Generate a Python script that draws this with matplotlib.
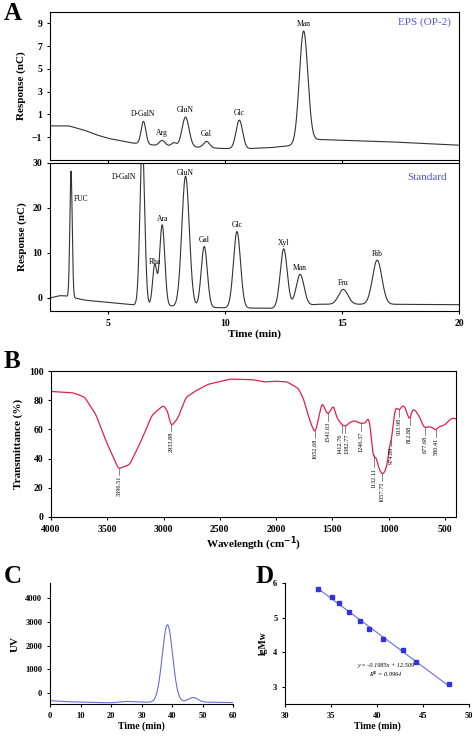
import numpy as np
import matplotlib.pyplot as plt

plt.rcParams['font.family'] = ['Liberation Serif', 'DejaVu Serif']
plt.rcParams['font.weight'] = 'bold'
plt.rcParams['axes.labelweight'] = 'bold'
plt.rcParams['mathtext.default'] = 'bf'

# Panel A: HPAEC-PAD peak tables (time, height, width)
eps_names = ['D-GalN', 'Arg', '', 'GluN', 'Gal', 'Glc', 'Man']
eps_time = [6.5, 7.3, 7.8, 8.3, 9.2, 10.6, 13.35]
eps_height = [2.0, 0.45, 0.3, 2.6, 0.55, 2.5, 9.8]
eps_width = [0.1, 0.12, 0.1, 0.15, 0.13, 0.14, 0.18]
eps_base_t = [2.5, 3.3, 4, 4.5, 5, 6, 7, 9, 10, 11, 12, 13, 13.6, 14, 17, 20]
eps_base_y = [0, 0, -0.4, -0.8, -1.1, -1.5, -1.7, -1.9, -2.0, -2.0, -1.9, -1.7, -1.3, -1.2, -1.4, -1.7]

std_names = ['FUC', 'D-GalN', 'Rha', 'Ara', 'GluN', 'Gal', 'Glc', 'Xyl', 'Man', 'Fru', 'Rib']
std_time = [3.4, 6.45, 6.98, 7.3, 8.3, 9.1, 10.5, 12.5, 13.2, 15.05, 16.5]
std_height = [28, 36, 9, 18, 29, 13.5, 17, 13, 7, 3.3, 9.8]
std_width = [0.05, 0.1, 0.09, 0.11, 0.16, 0.13, 0.15, 0.15, 0.17, 0.2, 0.2]
std_base_t = [2.5, 2.9, 3.1, 3.3, 4, 6, 7, 10, 12, 14, 17, 20]
std_base_y = [0, 0.5, 0.5, 0.3, -0.5, -1.5, -1.7, -2.2, -2.3, -1.4, -1.4, -1.5]

# Panel B: FT-IR
ir_wn = [4000, 3800, 3700, 3600, 3500, 3400, 3300, 3200, 3100, 3000, 2960, 2933, 2900, 2870, 2800,
         2700, 2600, 2400, 2200, 2100, 2000, 1900, 1800, 1750, 1700, 1652, 1620, 1590, 1560, 1541,
         1520, 1490, 1460, 1412, 1382, 1340, 1300, 1246, 1200, 1180, 1160, 1140, 1132, 1110, 1090,
         1057, 1030, 1000, 990, 974, 960, 940, 920, 903, 870, 840, 812, 790, 760, 720, 690, 677,
         640, 600, 580, 550, 500, 450, 420, 400]
ir_t = [86, 85, 82, 70, 50, 33, 36, 52, 70, 76.5, 72, 62, 65, 68, 82, 87, 91, 94.5, 94, 92.5, 93,
        92.5, 88, 80, 66, 57, 68, 79, 73, 70, 72, 77, 68, 63, 62, 65, 66, 64, 64.5, 69, 62, 42, 40,
        42, 34, 29, 31, 40, 53, 50, 62, 76, 74, 73, 77, 73, 65, 74, 73, 68, 62, 61, 62, 61, 59, 62,
        63, 67, 68, 67]
ir_marks = [3396.51, 2933.88, 1652.68, 1541.63, 1412.76, 1382.77, 1246.37, 1132.11, 1057.75,
            974.89, 903.98, 812.88, 677.68, 580.41]
ir_tick_len = [5, 5, 5, 5, 6, 5, 5, 8, 5, 5, 5, 5, 5, 5]
ir_label_dx = [0, 0, 0, 0, 22, -10, 0, 0, 0, 0, 0, 0, 0, 0]

# Panel C: GPC peak
gpc_time = [38.5, 47.0]
gpc_height = [3250, 180]
gpc_width = [1.7, 1.5]
gpc_base_t = [0, 5, 10, 15, 20, 25, 30, 35, 40, 45, 50, 55, 60]
gpc_base_y = [-320, -360, -380, -400, -410, -350, -380, -390, -370, -360, -380, -390, -400]

# Panel D: calibration
cal_time = [33.6, 35.1, 35.9, 37.0, 38.2, 39.1, 40.6, 42.8, 44.2, 47.8]
cal_lgmw = [5.82, 5.6, 5.43, 5.17, 4.9, 4.68, 4.37, 4.05, 3.72, 3.07]


def trace(t, bt, by, pt, ph, pw):
    y = np.interp(t, bt, by)
    for c, h, w in zip(pt, ph, pw):
        y = y + h * np.exp(-0.5 * ((t - c) / w) ** 2)
    return y


def bold_ticks(ax):
    for lb in ax.get_xticklabels() + ax.get_yticklabels():
        lb.set_fontweight('bold')


W, H = 474, 736
fig = plt.figure(figsize=(4.74, 7.36), dpi=100)


def box(l, t, r, b):
    return [l / W, 1 - b / H, (r - l) / W, (b - t) / H]


fs = 7
t = np.linspace(2.5, 20, 3000)

ax1 = fig.add_axes(box(50, 12, 459, 160))
y1 = trace(t, eps_base_t, eps_base_y, eps_time, eps_height, eps_width)
ax1.plot(t, y1, color='#333333', lw=0.8)
ax1.set_xlim(2.5, 20)
ax1.set_ylim(-3, 10)
ax1.set_yticks([-1, 1, 3, 5, 7, 9])
ax1.set_xticks([5, 10, 15, 20])
ax1.tick_params(labelbottom=False, labelsize=fs, direction='out', length=2)
ax1.set_ylabel('Response (nC)', fontsize=8)
ax1.text(0.98, 0.93, 'EPS (OP-2)', transform=ax1.transAxes, ha='right', va='center',
         color='#5555dd', fontsize=8, fontweight='normal')
for n, c in zip(eps_names, eps_time):
    if n:
        ax1.text(c, np.interp(c, t, y1) + 0.3, n, ha='center', va='bottom', fontsize=5.5,
                 fontweight='normal')

ax2 = fig.add_axes(box(50, 163, 459, 311))
y2 = trace(t, std_base_t, std_base_y, std_time, std_height, std_width)
ax2.plot(t, y2, color='#333333', lw=0.8)
ax2.set_xlim(2.5, 20)
ax2.set_ylim(-2.9, 30)
ax2.set_yticks([0, 10, 20, 30])
ax2.set_xticks([5, 10, 15, 20])
ax2.tick_params(labelsize=fs, direction='out', length=2)
ax2.set_ylabel('Response (nC)', fontsize=8)
ax2.set_xlabel('Time (min)', fontsize=8, labelpad=1)
ax2.text(0.97, 0.9, 'Standard', transform=ax2.transAxes, ha='right', va='center',
         color='#5555dd', fontsize=8, fontweight='normal')
std_off = {'FUC': (0.45, -7), 'D-GalN': (-0.8, -3), 'Rha': (0, -0.5), 'GluN': (0, -0.3)}
for n, c in zip(std_names, std_time):
    dx, dy = std_off.get(n, (0, 0.5))
    yy = min(np.interp(c, t, y2), 29)
    ax2.text(c + dx, yy + dy, n, ha='center', va='bottom', fontsize=5.5, fontweight='normal')

axb = fig.add_axes(box(51, 371, 456, 517))
wn_sorted = np.array(ir_wn[::-1], dtype=float)
t_sorted = np.array(ir_t[::-1], dtype=float)
wd = np.linspace(400, 4000, 3601)
td = np.interp(wd, wn_sorted, t_sorted)
kern = np.exp(-0.5 * (np.arange(-30, 31) / 10.0) ** 2)
kern /= kern.sum()
tpad = np.pad(td, 30, mode='edge')
ts = np.convolve(tpad, kern, mode='valid')
axb.plot(wd, ts, color='#e0204a', lw=0.9)
axb.set_xlim(4000, 400)
axb.set_ylim(0, 100)
axb.set_xticks([4000, 3500, 3000, 2500, 2000, 1500, 1000, 500])
axb.set_yticks([0, 20, 40, 60, 80, 100])
axb.tick_params(labelsize=fs, direction='out', length=2)
axb.set_ylabel('Transmittance (%)', fontsize=8)
axb.set_xlabel('Wavelength (cm$^{-1}$)', fontsize=8, labelpad=1)
for m, ln, dx in zip(ir_marks, ir_tick_len, ir_label_dx):
    cy = np.interp(m, wd, ts)
    axb.plot([m, m], [cy, cy - ln], color='#555555', lw=0.5)
    axb.text(m + dx, cy - ln - 0.5, '%.2f' % m, rotation=90, ha='center', va='top', fontsize=4.5,
             fontweight='normal')

axc = fig.add_axes(box(50, 583, 233, 704))
tc = np.linspace(0, 60, 1200)
yc = trace(tc, gpc_base_t, gpc_base_y, gpc_time, gpc_height, gpc_width)
axc.plot(tc, yc, color='#6a6ae0', lw=0.8)
axc.set_xlim(0, 60)
axc.set_ylim(-460, 4630)
axc.set_yticks([0, 1000, 2000, 3000, 4000])
axc.set_xticks([0, 10, 20, 30, 40, 50, 60])
axc.tick_params(labelsize=fs - 1, direction='out', length=2)
axc.set_ylabel('UV', fontsize=8)
axc.set_xlabel('Time (min)', fontsize=7, labelpad=1)
for s in ['top', 'right']:
    axc.spines[s].set_visible(False)

axd = fig.add_axes(box(285, 583, 469, 704))
k, b0 = np.polyfit(cal_time, cal_lgmw, 1)
xl = np.array([cal_time[0], cal_time[-1]])
axd.plot(xl, k * xl + b0, color='#6a6ae0', lw=0.8)
axd.plot(cal_time, cal_lgmw, 's', color='#3333dd', ms=3)
axd.set_xlim(30, 50)
axd.set_ylim(2.5, 6)
axd.set_yticks([3, 4, 5, 6])
axd.set_xticks([30, 35, 40, 45, 50])
axd.tick_params(labelsize=fs - 1, direction='out', length=2)
axd.set_ylabel('lgMw', fontsize=7)
axd.set_xlabel('Time (min)', fontsize=7, labelpad=1)
axd.text(41, 3.45, 'y = -0.1985x + 12.509\nR$^2$ = 0.9964', ha='center', va='center',
         fontsize=4.5, fontweight='normal', fontstyle='italic')
for s in ['top', 'right']:
    axd.spines[s].set_visible(False)

for ax in [ax1, ax2, axb, axc, axd]:
    bold_ticks(ax)

for lab, x, y in [('A', 4, 2), ('B', 4, 350), ('C', 4, 565), ('D', 255, 565)]:
    fig.text(x / W, 1 - y / H, lab, fontsize=18, fontweight='bold', va='top')

fig.savefig('out.png', dpi=100)
